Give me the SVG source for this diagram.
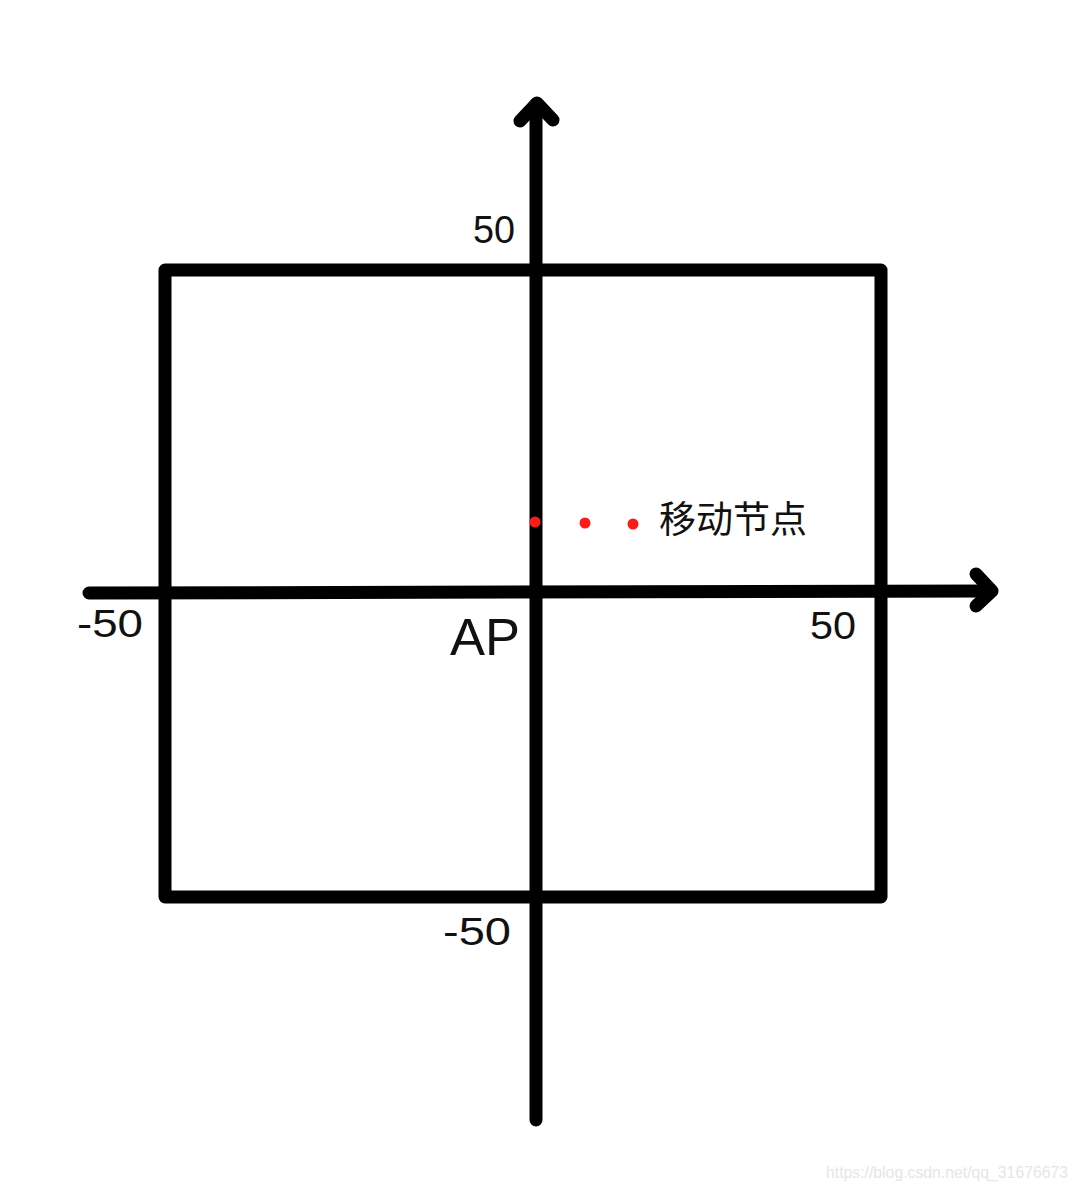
<svg xmlns="http://www.w3.org/2000/svg" width="1078" height="1191" viewBox="0 0 1078 1191">
<style>
.ln{fill:none;stroke:#000;stroke-width:13;stroke-linecap:round;stroke-linejoin:round}
.lbl{font-family:"Liberation Sans",Arial,sans-serif;fill:#111}
.num{font-size:38px}
.dot{fill:#ff1a1a}
</style>
<rect width="1078" height="1191" fill="#fff"/>
<g id="box"><rect class="ln" x="165" y="270" width="716" height="627"/></g>
<g id="connectors">
<path class="ln" d="M536 1120 L536 104"/>
<path class="ln" d="M520 121 L537 103 L553 120"/>
<path class="ln" d="M89 593 L990 591"/>
<path class="ln" d="M976 574 L992 591 L976 606"/>
</g>
<g id="labels">
<text class="lbl num" x="473" y="243" textLength="42" lengthAdjust="spacingAndGlyphs">50</text>
<text class="lbl num" x="77" y="637" textLength="66" lengthAdjust="spacingAndGlyphs">-50</text>
<text class="lbl num" x="810" y="639" textLength="46" lengthAdjust="spacingAndGlyphs">50</text>
<text class="lbl" x="450" y="655" font-size="51" textLength="70" lengthAdjust="spacingAndGlyphs">AP</text>
<text class="lbl num" x="443" y="945" textLength="68" lengthAdjust="spacingAndGlyphs">-50</text>
</g>
<g id="nodes">
<circle class="dot" cx="535" cy="522" r="5.5"/>
<circle class="dot" cx="585" cy="523" r="5.5"/>
<circle class="dot" cx="633" cy="524" r="5.5"/>
<text x="659" y="533" font-size="37" font-family="'Noto Sans CJK SC',sans-serif" fill="#111">移动节点</text>
</g>
<text x="826" y="1178" font-size="16" font-family="'Liberation Sans',Arial,sans-serif" fill="#e6e6e6" textLength="242" lengthAdjust="spacingAndGlyphs">https://blog.csdn.net/qq_31676673</text>
</svg>
